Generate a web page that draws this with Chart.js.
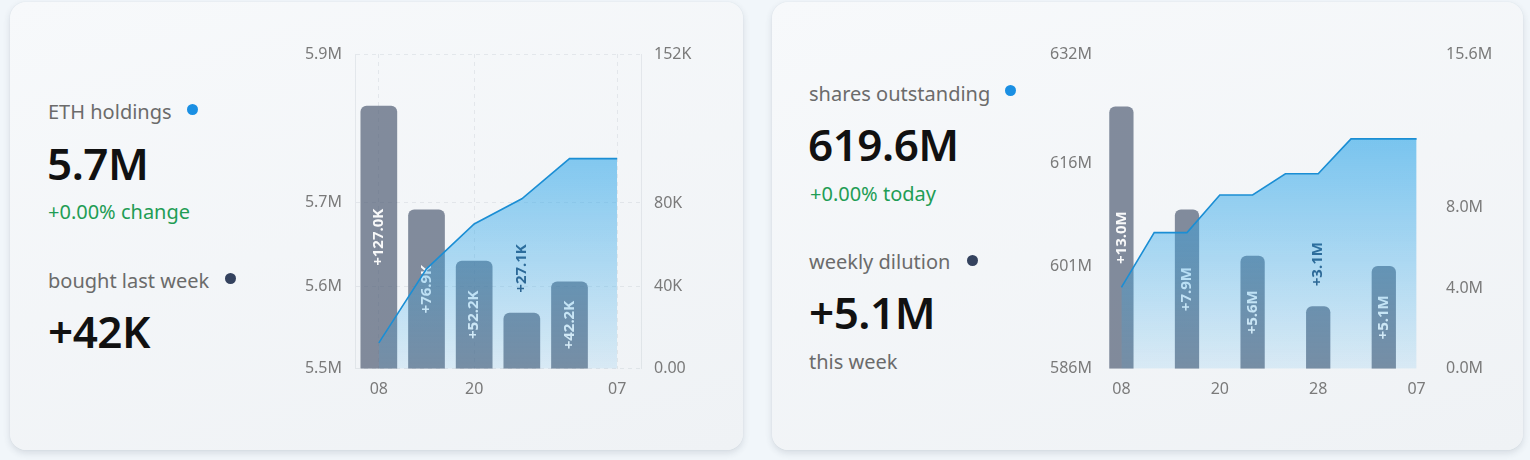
<!DOCTYPE html>
<html>
<head>
<meta charset="utf-8">
<script src="https://cdn.jsdelivr.net/npm/chart.js@4.4.1/dist/chart.umd.min.js"></script>
<style>
  body { margin: 0; width: 1530px; height: 460px; background: #f1f6fa; font-family: 'Noto Sans', sans-serif; position: relative; overflow: hidden; }
  .card { position: absolute; top: 2px; height: 448px; border-radius: 16px;
          background: linear-gradient(165deg, #f7f9fb 0%, #eff2f5 100%);
          box-shadow: 0 3px 7px rgba(40, 60, 80, 0.14), 0 0 1px rgba(40, 60, 80, 0.15); }
  .t { position: absolute; white-space: nowrap; line-height: 1; }
  .lbl { font-size: 20px; color: #6b6b6b; }
  .big { font-size: 44px; font-weight: 600; color: #111; letter-spacing: -0.5px; }
  .green { font-size: 20px; color: #1f9d55; }
  .dot { position: absolute; width: 11px; height: 11px; border-radius: 50%; }
  canvas { position: absolute; }
</style>
</head>
<body>
<div class="card" style="left:10px; width:733px;"></div>
<div class="card" style="left:772px; width:751px;"></div>

<span class="t lbl" style="left:48px; top:102px;">ETH holdings</span>
<span class="dot" style="left:187px; top:104px; background:#1a8fe3;"></span>
<span class="t big" style="left:47px; top:141px;">5.7M</span>
<span class="t green" style="left:48px; top:202px;">+0.00% change</span>
<span class="t lbl" style="left:48px; top:271px;">bought last week</span>
<span class="dot" style="left:225px; top:273px; background:#34425e;"></span>
<span class="t big" style="left:48px; top:309px;">+42K</span>

<span class="t lbl" style="left:809px; top:84px;">shares outstanding</span>
<span class="dot" style="left:1005px; top:85px; background:#1a8fe3;"></span>
<span class="t big" style="left:808px; top:122px;">619.6M</span>
<span class="t green" style="left:810px; top:184px;">+0.00% today</span>
<span class="t lbl" style="left:809px; top:252px;">weekly dilution</span>
<span class="dot" style="left:967px; top:255px; background:#34425e;"></span>
<span class="t big" style="left:809px; top:290px;">+5.1M</span>
<span class="t lbl" style="left:809px; top:352px;">this week</span>

<canvas id="ethChart" width="420" height="380" style="left:290px; top:30px;"></canvas>
<canvas id="shareChart" width="480" height="380" style="left:1030px; top:30px;"></canvas>

<script>
'use strict';

// ETH card (holdings in M, weekly buys in K)
const ethLabels = ['08', '', '20', '', '', '07'];
const ethHoldings = [5.533, 5.627, 5.684, 5.716, 5.767, 5.767];
const ethBought = [127.0, 76.9, 52.2, 27.1, 42.2, null];
const ethLeftTicks = [5.5, 5.605, 5.711, 5.9];
const ethLeftTickLabels = ['5.5M', '5.6M', '5.7M', '5.9M'];
const ethRightTicks = [0, 40, 80, 152];
const ethRightTickLabels = ['0.00', '40K', '80K', '152K'];

// shares card (outstanding in M, dilution in M)
const shareLabels = ['08', '', '', '20', '', '', '28', '', '', '07'];
const sharesOut = [597.9, 605.9, 605.9, 611.4, 611.4, 614.5, 614.5, 619.6, 619.6, 619.6];
const shareDilution = [13.0, null, 7.9, null, 5.6, null, 3.1, null, 5.1, null];
const shareLeftTicks = [586, 601, 616, 632];
const shareLeftTickLabels = ['586M', '601M', '616M', '632M'];
const shareRightTicks = [0, 4, 8, 15.6];
const shareRightTickLabels = ['0.0M', '4.0M', '8.0M', '15.6M'];

Chart.defaults.font.family = '"Noto Sans", sans-serif';
Chart.defaults.font.size = 16;
Chart.defaults.color = '#7a7a7a';

const barLabels = {
  id: 'barLabels',
  afterDatasetDraw: function(chart, args) {
    const ds = chart.data.datasets[args.index];
    if (ds.type !== 'bar') return;
    const ctx = chart.ctx;
    ctx.save();
    ctx.font = 'bold 15px "Noto Sans"';
    ctx.textAlign = 'center';
    ctx.textBaseline = 'middle';
    args.meta.data.forEach(function(bar, i) {
      const v = ds.data[i];
      if (v === null || v === undefined) return;
      const text = '+' + v.toFixed(1) + ds.unit;
      const w = ctx.measureText(text).width;
      const h = bar.base - bar.y;
      let cy = bar.y + h / 2;
      let color = 'rgba(255,255,255,0.95)';
      if (h < w + 22) {
        cy = bar.y - 20 - w / 2;
        color = '#2c4c70';
      }
      ctx.save();
      ctx.translate(bar.x, cy);
      ctx.rotate(-Math.PI / 2);
      ctx.fillStyle = color;
      ctx.fillText(text, 0, 0);
      ctx.restore();
    });
    ctx.restore();
  }
};

const fillGradient = function(context) {
  const area = context.chart.chartArea;
  if (!area) return 'rgba(56,168,230,0.4)';
  const g = context.chart.ctx.createLinearGradient(0, area.top, 0, area.bottom);
  g.addColorStop(0, 'rgba(45,165,232,0.8)');
  g.addColorStop(1, 'rgba(45,165,232,0.12)');
  return g;
};

const makeChart = function(id, o) {
  const gridColor = 'rgba(60,80,100,0.09)';
  return new Chart(document.getElementById(id), {
    data: {
      labels: o.labels,
      datasets: [
        {
          type: 'line',
          data: o.line,
          yAxisID: 'y',
          borderColor: '#1b8ed4',
          borderWidth: 1.6,
          pointRadius: 0,
          tension: 0,
          fill: 'start',
          backgroundColor: fillGradient
        },
        {
          type: 'bar',
          data: o.bars,
          unit: o.unit,
          yAxisID: 'y1',
          backgroundColor: 'rgba(70,84,108,0.66)',
          borderRadius: { topLeft: 6, topRight: 6 },
          borderSkipped: 'start',
          categoryPercentage: o.barPct,
          barPercentage: 1
        }
      ]
    },
    options: {
      responsive: false,
      animation: false,
      devicePixelRatio: 1,
      layout: { padding: { top: 24, bottom: 0 } },
      plugins: { legend: { display: false }, tooltip: { enabled: false } },
      scales: {
        x: {
          offset: true,
          grid: { display: o.grid, offset: false, drawTicks: false, color: gridColor },
          border: { display: false, dash: [4, 4] },
          ticks: {
            padding: 11,
            autoSkip: false,
            maxRotation: 0,
            callback: function(v, i) { return o.labels[i] || null; }
          }
        },
        y: {
          position: 'left',
          min: o.leftTicks[0],
          max: o.leftTicks[o.leftTicks.length - 1],
          afterBuildTicks: function(s) { s.ticks = o.leftTicks.map(function(v) { return { value: v }; }); },
          afterFit: function(s) { s.width = o.leftWidth; },
          grid: { display: o.grid, drawTicks: false, color: gridColor },
          border: { display: o.grid, color: gridColor, dash: [4, 4] },
          ticks: { padding: 13, callback: function(v, i) { return o.leftTickLabels[i]; } }
        },
        y1: {
          position: 'right',
          min: o.rightTicks[0],
          max: o.rightTicks[o.rightTicks.length - 1],
          afterBuildTicks: function(s) { s.ticks = o.rightTicks.map(function(v) { return { value: v }; }); },
          afterFit: function(s) { s.width = o.rightWidth; },
          grid: { display: false, drawTicks: false },
          border: { display: o.grid, color: gridColor },
          ticks: { padding: 13, callback: function(v, i) { return o.rightTickLabels[i]; } }
        }
      }
    },
    plugins: [barLabels]
  });
};

const init = function() {
  makeChart('ethChart', {
    labels: ethLabels, line: ethHoldings, bars: ethBought, unit: 'K',
    leftTicks: ethLeftTicks, leftTickLabels: ethLeftTickLabels,
    rightTicks: ethRightTicks, rightTickLabels: ethRightTickLabels,
    leftWidth: 65, rightWidth: 69, barPct: 0.77, grid: true
  });
  makeChart('shareChart', {
    labels: shareLabels, line: sharesOut, bars: shareDilution, unit: 'M',
    leftTicks: shareLeftTicks, leftTickLabels: shareLeftTickLabels,
    rightTicks: shareRightTicks, rightTickLabels: shareRightTickLabels,
    leftWidth: 75, rightWidth: 77, barPct: 0.74, grid: false
  });
};

document.addEventListener('DOMContentLoaded', init);
</script>
</body>
</html>
